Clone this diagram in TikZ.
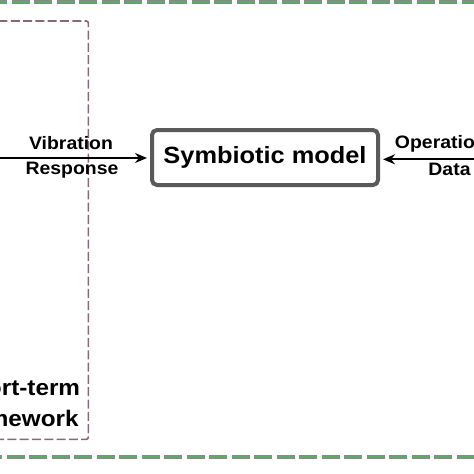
\documentclass[tikz,border=0pt]{standalone}
\usepackage{fontspec}
\setmainfont[FakeStretch=1.08]{Liberation Sans}
\usetikzlibrary{arrows.meta}
\definecolor{greenline}{RGB}{92,172,104}
\definecolor{greenedge}{RGB}{130,140,132}
\definecolor{maroon}{RGB}{140,102,112}
\definecolor{boxedge}{RGB}{90,90,90}
\begin{document}
\begin{tikzpicture}[x=1pt,y=-1pt,
  lbl/.style={font=\fontsize{18}{25}\selectfont\bfseries, align=center, inner sep=0pt},
  biglbl/.style={font=\fontsize{22.5}{31}\selectfont\bfseries, align=center, inner sep=0pt},
  modelbox/.style={draw=boxedge, line width=4pt, rounded corners=5pt, minimum width=226pt, minimum height=55pt, inner sep=0pt, font=\fontsize{23.5}{26}\selectfont\bfseries},
  flow/.style={line width=2.2pt, -{Stealth[length=12pt,width=10pt]}, shorten >=3pt},
  gdash/.style={line width=4pt, draw=greenedge, dash pattern=on 18pt off 4.5pt},
  gdashin/.style={line width=2.6pt, draw=greenline, dash pattern=on 17pt off 5.5pt},
  frame/.style={draw=maroon, line width=1.6pt, dash pattern=on 9pt off 3.3pt, rounded corners=2pt}]
\useasboundingbox (0,0) rectangle (474,474);
% green dashed lines
\coordinate (tl) at (-10.8,2);
\coordinate (tr) at (480,2);
\coordinate (bl) at (-15.8,457);
\coordinate (br) at (480,457);
\draw[gdash] (tl) -- (tr);
\draw[gdashin, dash phase=-0.5pt] (tl) -- (tr);
\draw[gdash] (bl) -- (br);
\draw[gdashin, dash phase=-0.5pt] (bl) -- (br);
% maroon frame
\coordinate (fa) at (-20,21);
\coordinate (fb) at (88.3,439.3);
\draw[frame] (fa) rectangle (fb);
% model box
\node[modelbox] (model) at (265,157.5) {Symbiotic model};
% left arrow
\coordinate (lin) at (-5,158);
\draw[flow] (lin) -- (model.west |- lin);
\node[lbl, anchor=base] (vib) at (71,149.3) {Vibration};
\node[lbl, anchor=base] (resp) at (72,174.3) {Response};
% right arrow
\coordinate (rin) at (480,159.3);
\draw[flow] (rin) -- (model.east |- rin);
\node[lbl, anchor=base] (oper) at (449,148.3) {Operational};
\node[lbl, anchor=base] (data) at (449.5,175) {Data};
% left frame label
\node[biglbl, anchor=base] (short) at (18,395) {Short-term};
\node[biglbl, anchor=base] (frm) at (17.2,426) {framework};
\end{tikzpicture}
\end{document}
